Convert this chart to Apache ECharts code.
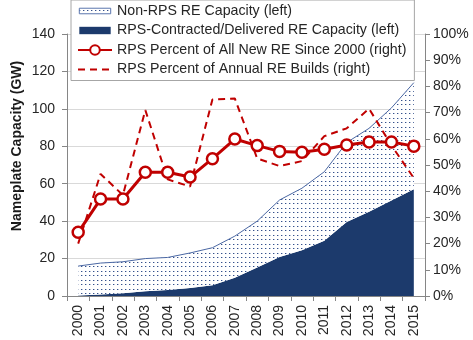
<!DOCTYPE html>
<html>
<head>
<meta charset="utf-8">
<script src="https://cdn.jsdelivr.net/npm/echarts@6/dist/echarts.min.js"></script>
<style>
  html, body { margin: 0; padding: 0; background: #fff; }
  #chart { width: 473px; height: 340px; }
</style>
</head>
<body>
<div id="chart"></div>
<script>
// Renewable capacity by year (GW) and RPS shares (%)
const years = ['2000','2001','2002','2003','2004','2005','2006','2007',
               '2008','2009','2010','2011','2012','2013','2014','2015'];
const rpsCapacity = [0.3, 0.8, 1.5, 2.5, 3.2, 4.3, 5.8, 9.8,
                     15.2, 20.8, 24.5, 29.5, 39.5, 45.0, 51.0, 57.0];
const nonRpsCapacity = [15.7, 16.8, 16.8, 17.5, 17.4, 18.7, 20.0, 22.2,
                        24.8, 30.5, 33.1, 36.9, 42.5, 44.6, 49.5, 57.0];
const rpsShareCumulative = [24.3, 37.0, 37.0, 47.2, 47.2, 45.4, 52.4, 59.9,
                            57.4, 55.2, 54.9, 56.0, 57.6, 58.8, 58.8, 57.2];
const rpsShareAnnual = [20.0, 46.6, 38.5, 71.0, 44.5, 41.8, 75.0, 75.4,
                        52.5, 49.6, 51.5, 61.0, 64.0, 71.5, 57.5, 45.0];
const leftTicks = { min: 0, max: 140, step: 20 };
const rightTicks = { min: 0, max: 100, step: 10 };

const NAVY = '#1c3a6c';
const RED = '#c00000';

// Dotted fill for the non-RPS band
function dotPattern() {
  const c = document.createElement('canvas');
  c.width = 4; c.height = 9;
  const g = c.getContext('2d');
  g.fillStyle = '#ffffff';
  g.fillRect(0, 0, 4, 9);
  g.fillStyle = '#34508c';
  g.fillRect(1, 1, 1, 1);
  g.fillRect(1, 5, 1, 1);
  g.fillStyle = 'rgba(52,80,140,0.35)';
  g.fillRect(2, 1, 1, 1);
  g.fillRect(2, 5, 1, 1);
  return { image: c, repeat: 'repeat' };
}
const dots = dotPattern();

const chart = echarts.init(document.getElementById('chart'), null, { renderer: 'canvas' });
const axisGray = '#868686';
const labelColor = '#262626';
const font = 'Liberation Sans, Arial, sans-serif';

chart.setOption({
  animation: false,
  textStyle: { fontFamily: font },
  grid: { left: 67, right: 48, top: 34, bottom: 44 },
  legend: {
    orient: 'vertical',
    left: 71, top: 0,
    padding: [3, 8, 3, 6],
    itemWidth: 34, itemHeight: 12, itemGap: 3.5, itemTextGap: 4,
    backgroundColor: '#ffffff',
    borderColor: '#a6a6a6', borderWidth: 1,
    textStyle: { fontSize: 14.2, color: labelColor, fontFamily: font, lineHeight: 16 },
    data: [
      { name: 'Non-RPS RE Capacity (left)',
        icon: 'path://M0,0M0,3.5L34,3.5L34,9.5L0,9.5ZM34,13',
        itemStyle: { color: dots, borderColor: '#5a76ae', borderWidth: 1 } },
      { name: 'RPS-Contracted/Delivered RE Capacity (left)',
        icon: 'path://M0,0M0,2.5L34,2.5L34,10.5L0,10.5ZM34,13',
        itemStyle: { color: NAVY, borderWidth: 0 } },
      { name: 'RPS Percent of All New RE Since 2000 (right)' },
      { name: 'RPS Percent of Annual RE Builds (right)',
        itemStyle: { opacity: 0 } }
    ]
  },
  graphic: [{
    type: 'text',
    x: 17, y: 146,
    rotation: Math.PI / 2,
    style: {
      text: 'Nameplate Capacity (GW)',
      font: 'bold 14px ' + font,
      fill: '#1a1a1a',
      align: 'center',
      verticalAlign: 'middle'
    }
  }],
  xAxis: {
    type: 'category',
    data: years,
    boundaryGap: true,
    axisLine: { lineStyle: { color: axisGray, width: 1 } },
    axisTick: { show: true, length: 5, lineStyle: { color: axisGray } },
    axisLabel: { rotate: 90, fontSize: 14, color: labelColor, margin: 9, interval: 0 }
  },
  yAxis: [{
    type: 'value',
    min: leftTicks.min, max: leftTicks.max, interval: leftTicks.step,
    axisLine: { show: true, lineStyle: { color: axisGray } },
    axisTick: { show: true, length: 5, lineStyle: { color: axisGray } },
    axisLabel: { fontSize: 14, color: labelColor, margin: 12 },
    splitLine: { show: true, lineStyle: { color: '#d9d9d9', width: 1 } }
  }, {
    type: 'value',
    position: 'right',
    min: rightTicks.min, max: rightTicks.max, interval: rightTicks.step,
    axisLine: { show: true, lineStyle: { color: axisGray } },
    axisTick: { show: true, length: 5, lineStyle: { color: axisGray } },
    axisLabel: { fontSize: 14, color: labelColor, margin: 8, formatter: '{value}%' },
    splitLine: { show: false }
  }],
  series: [{
    name: 'RPS-Contracted/Delivered RE Capacity (left)',
    type: 'line',
    stack: 'capacity',
    yAxisIndex: 0,
    data: rpsCapacity,
    symbol: 'none',
    lineStyle: { width: 0, color: NAVY },
    itemStyle: { color: NAVY },
    areaStyle: { color: NAVY, opacity: 1 },
    z: 1
  }, {
    name: 'Non-RPS RE Capacity (left)',
    type: 'line',
    stack: 'capacity',
    yAxisIndex: 0,
    data: nonRpsCapacity,
    symbol: 'none',
    lineStyle: { width: 1, color: '#4a67a3' },
    itemStyle: { color: '#4a67a3' },
    areaStyle: { color: dots, opacity: 1 },
    z: 1
  }, {
    name: 'RPS Percent of Annual RE Builds (right)',
    type: 'line',
    yAxisIndex: 1,
    data: rpsShareAnnual,
    symbol: 'none',
    lineStyle: { width: 2, color: RED, type: [7, 5] },
    itemStyle: { color: RED },
    z: 3
  }, {
    name: 'RPS Percent of All New RE Since 2000 (right)',
    type: 'line',
    yAxisIndex: 1,
    data: rpsShareCumulative,
    symbol: 'circle',
    symbolSize: 11,
    showAllSymbol: true,
    lineStyle: { width: 3, color: RED },
    itemStyle: { color: '#ffffff', borderColor: RED, borderWidth: 2.5 },
    z: 4
  }]
});
</script>
</body>
</html>
